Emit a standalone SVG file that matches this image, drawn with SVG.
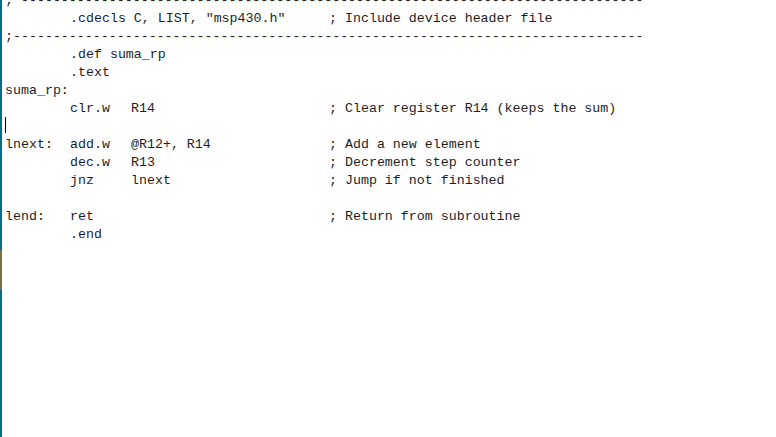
<svg xmlns="http://www.w3.org/2000/svg" width="776" height="437" viewBox="0 0 776 437">
<style>text{font-family:"Liberation Mono","DejaVu Sans Mono",monospace;font-size:13.3px;fill:#1e1e1e;white-space:pre}</style>
<rect width="776" height="437" fill="#fff"/>
<rect x="0" y="0" width="2" height="437" fill="#0a6b84"/>
<rect x="0" y="250" width="2" height="40" fill="#7a6e48"/>
<g id="code" xml:space="preserve">
<text x="5" y="4">; ------------------------------------------------------------------------------</text>
<text x="70" y="22">.cdecls C, LIST, "msp430.h"</text><text x="329" y="22">; Include device header file</text>
<text x="5" y="40">;-------------------------------------------------------------------------------</text>
<text x="70" y="58">.def suma_rp</text>
<text x="70" y="76">.text</text>
<text x="5" y="94">suma_rp:</text>
<text x="70" y="112">clr.w</text><text x="131" y="112">R14</text><text x="329" y="112">; Clear register R14 (keeps the sum)</text>
<text x="5" y="148">lnext:</text><text x="70" y="148">add.w</text><text x="131" y="148">@R12+, R14</text><text x="329" y="148">; Add a new element</text>
<text x="70" y="166">dec.w</text><text x="131" y="166">R13</text><text x="329" y="166">; Decrement step counter</text>
<text x="70" y="184">jnz</text><text x="131" y="184">lnext</text><text x="329" y="184">; Jump if not finished</text>
<text x="5" y="220">lend:</text><text x="70" y="220">ret</text><text x="329" y="220">; Return from subroutine</text>
<text x="70" y="238">.end</text>
</g>
<rect x="5" y="117" width="1" height="16" fill="#000"/>
</svg>
